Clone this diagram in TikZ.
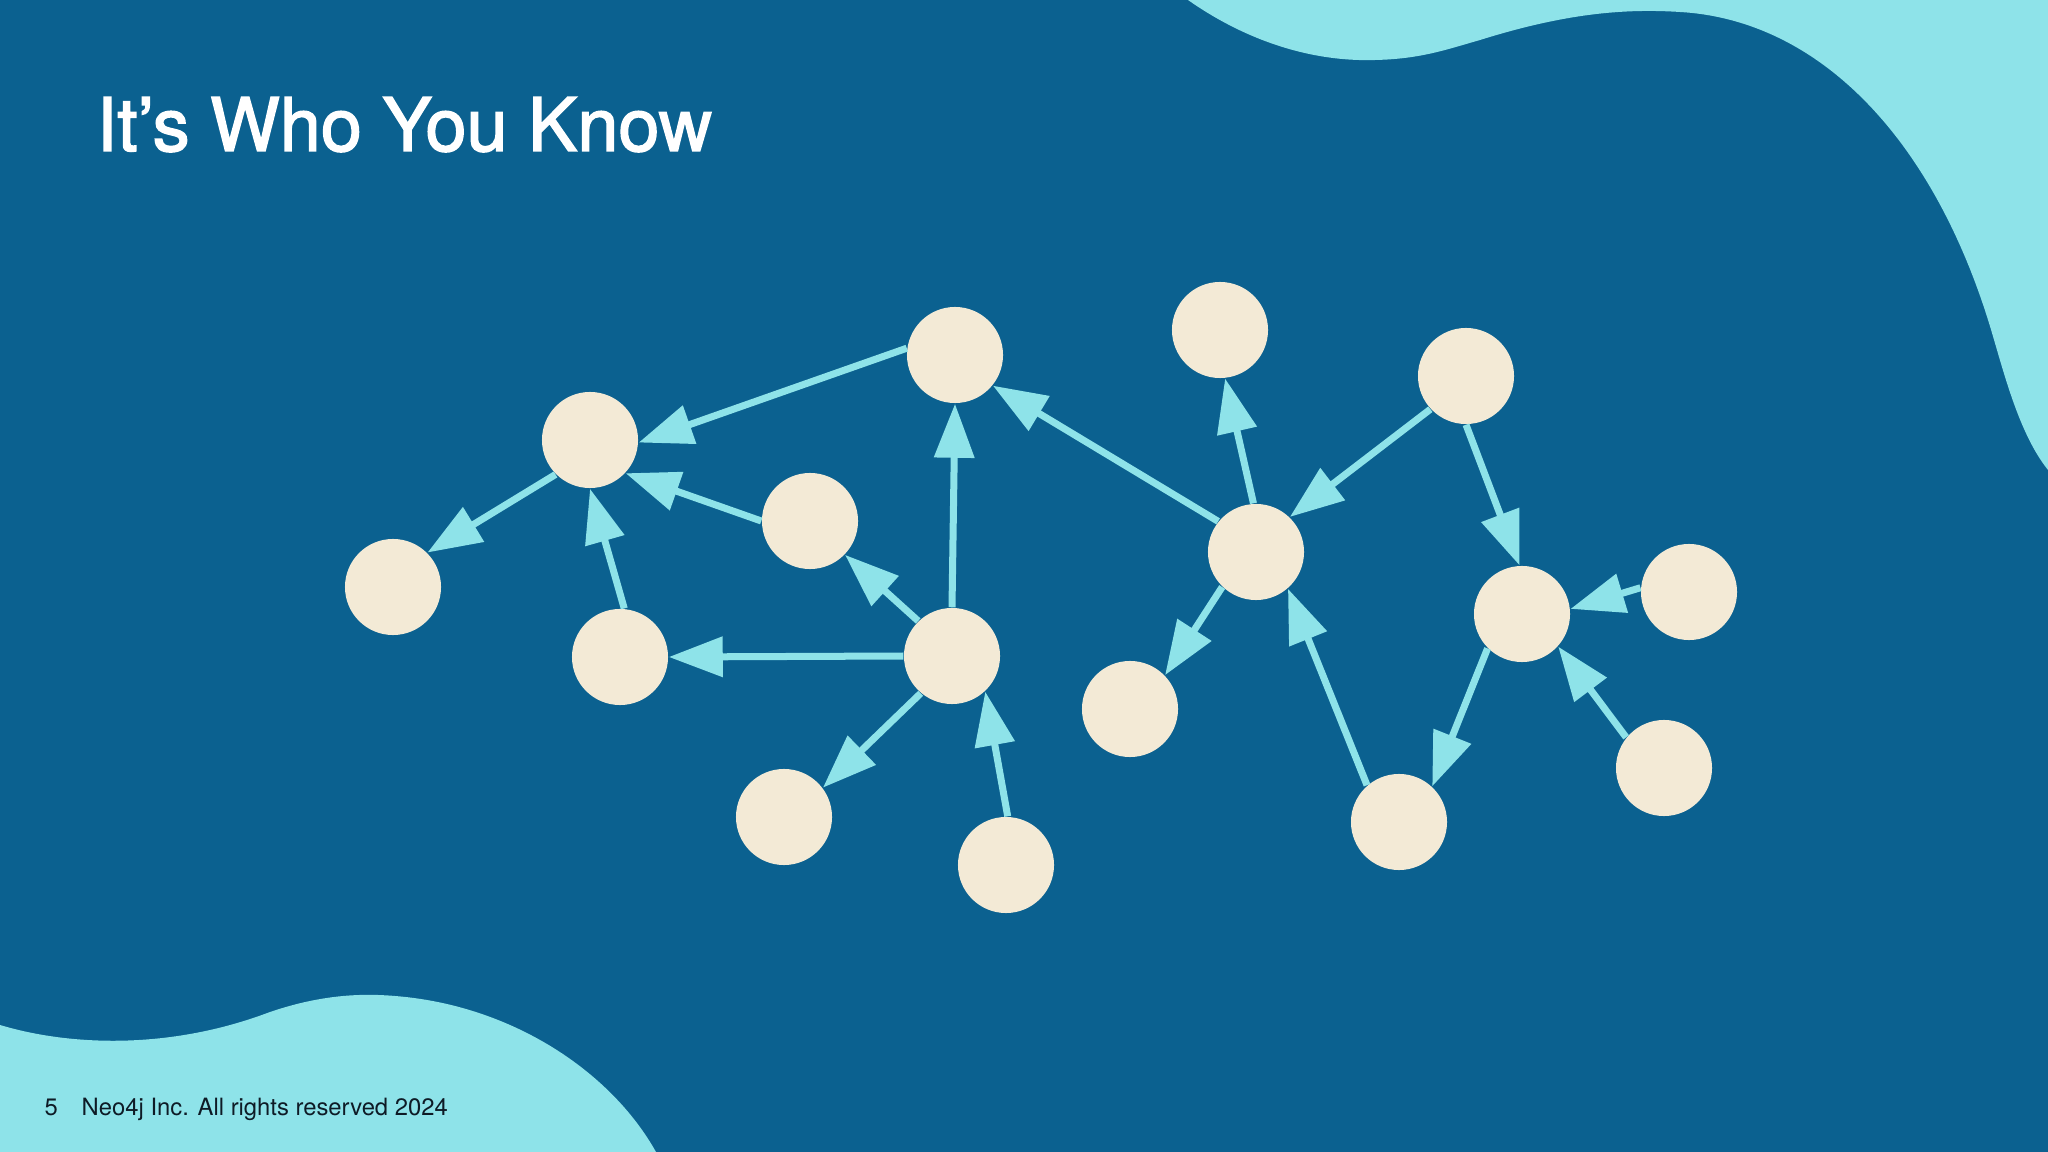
\documentclass[tikz,border=0pt]{standalone}
\usepackage{fontspec}
\setmainfont{TeX Gyre Heros}
\newfontfamily\titlefont[FakeBold=2]{TeX Gyre Heros}
\usetikzlibrary{arrows.meta}
\definecolor{bgblue}{HTML}{0B6190}
\definecolor{lightcyan}{HTML}{8EE3E9}
\definecolor{cream}{HTML}{F3EAD6}
\definecolor{footdark}{HTML}{0E1B26}
\tikzset{
  person/.style={circle, fill=cream, draw=none, inner sep=0pt, minimum size=0.96cm},
  link/.style={draw=lightcyan, line width=0.07cm, -{Triangle[length=0.54cm,width=0.39cm]}},
  blob/.style={fill=lightcyan, draw=none}
}
\begin{document}
\begin{tikzpicture}[x=0.01cm, y=-0.01cm]
\useasboundingbox (0,0) rectangle (2048,1152);
\fill[bgblue] (0,0) rectangle (2048,1152);
% decorative blobs
\fill[blob] (1188,0) .. controls (1245,40) and (1310,62) .. (1375,60)
  .. controls (1420,59) and (1445,50) .. (1480,40)
  .. controls (1560,15) and (1620,8) .. (1680,12)
  .. controls (1820,20) and (1935,140) .. (1992,333)
  .. controls (2005,377) and (2020,435) .. (2048,470)
  -- (2048,0) -- cycle;
\fill[blob] (0,1025) .. controls (70,1046) and (170,1050) .. (270,1012)
  .. controls (320,995) and (360,993) .. (395,996)
  .. controls (510,1005) and (610,1070) .. (656,1152)
  -- (0,1152) -- cycle;
% title and footer
\node[anchor=base west, text=white, inner sep=0pt, font=\titlefont\fontsize{21pt}{24pt}\selectfont] (title) at (96,151) {It’s Who You Know};
\node[anchor=base west, text=footdark, inner sep=0pt, font=\fontsize{6.77pt}{8pt}\selectfont] (pnum) at (44,1115) {5};
\node[anchor=base west, text=footdark, inner sep=0pt, font=\fontsize{6.77pt}{8pt}\selectfont] (foot) at (81,1115) {Neo4j Inc. All rights reserved 2024};
% nodes
\node[person] (A) at (955,355) {};
\node[person] (B) at (590,440) {};
\node[person] (C) at (393,587) {};
\node[person] (D) at (810,521) {};
\node[person] (E) at (620,657) {};
\node[person] (F) at (952,656) {};
\node[person] (G) at (784,817) {};
\node[person] (H) at (1006,865) {};
\node[person] (I) at (1220,330) {};
\node[person] (J) at (1256,552) {};
\node[person] (K) at (1466,376) {};
\node[person] (L) at (1130,709) {};
\node[person] (M) at (1522,614) {};
\node[person] (N) at (1689,592) {};
\node[person] (O) at (1399,822) {};
\node[person] (P) at (1664,768) {};
% connectors
\draw[link] (A.172) -- (B.-3);
\draw[link] (B.225) -- (C.45);
\draw[link] (D.180) -- (B.-43);
\draw[link] (E.85) -- (B.-90);
\draw[link] (F.180) -- (E.0);
\draw[link] (F.134) -- (D.-44);
\draw[link] (F.90) -- (A.-90);
\draw[link] (F.230) -- (G.37);
\draw[link] (H.88) -- (F.-47);
\draw[link] (J.141) -- (A.-39);
\draw[link] (J.93) -- (I.-84);
\draw[link] (K.223) -- (J.46);
\draw[link] (K.-90) -- (M.93);
\draw[link] (N.175) -- (M.6);
\draw[link] (J.226) -- (L.44);
\draw[link] (O.131) -- (J.-49);
\draw[link] (M.225) -- (O.47);
\draw[link] (P.141) -- (M.-42);
\end{tikzpicture}
\end{document}
